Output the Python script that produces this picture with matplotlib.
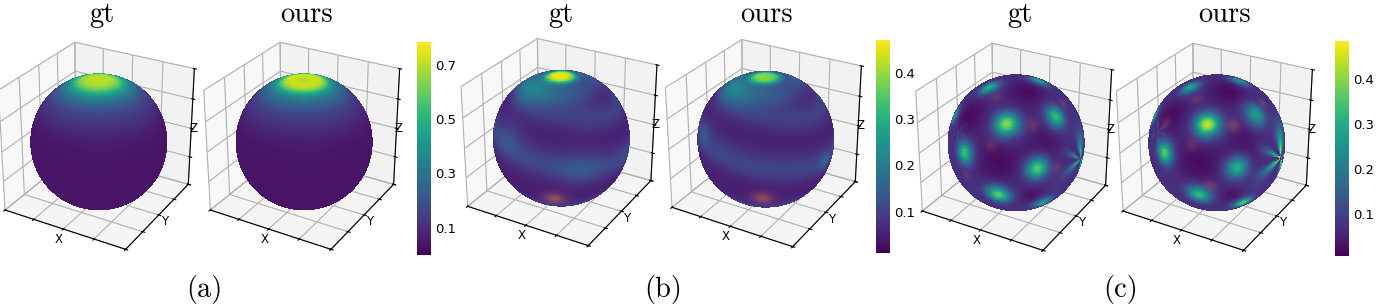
"""
Six spheres on 3D axes, ground truth against ours, with one colorbar per pair.
Spots are read off the picture as (p, q) on the unit disc, as seen by the viewer.
"""

import numpy as np
import matplotlib
matplotlib.use("Agg")
import matplotlib.pyplot as plt
from matplotlib.colors import Normalize
from matplotlib.cm import ScalarMappable

W, H = 1378, 307
ELEV, AZIM = 28, -60

titles = ["gt", "ours"]
captions = ["(a)", "(b)", "(c)"]
side_ticks = [-1.02, -0.51, 0, 0.51, 1.02]
z_lims = (-0.95, 1.01)
z_ticks = [-0.95, -0.46, 0.03, 0.52, 1.01]

# colour ranges
ranges = [(0.0, 0.783), (0.011, 0.47), (0.006, 0.485)]
bar_ticks = [[0.1, 0.3, 0.5, 0.7], [0.1, 0.2, 0.3, 0.4], [0.1, 0.2, 0.3, 0.4]]

# base level of each sphere
a_base = 0.042
b_base = 0.05
c_base = 0.07

# bands: (z, amplitude, width, tilt)
a_gt_bands = [(1.0, 0.29, 0.045, 0), (1.0, 0.28, 0.11, 0), (0.85, 0.11, 0.22, 0)]
a_ours_bands = [(0.985, 0.32, 0.035, 0), (1.0, 0.27, 0.11, 0), (0.85, 0.11, 0.22, 0)]
b_gt_bands = [(1.0, 0.34, 0.018, 0), (0.92, 0.09, 0.08, 0), (0.72, 0.05, 0.10, 0.16),
              (0.09, 0.06, 0.15, 0.16), (-0.75, 0.04, 0.12, 0)]
b_ours_bands = [(1.0, 0.27, 0.018, 0), (0.92, 0.09, 0.08, 0), (0.72, 0.05, 0.10, 0.16),
                (0.09, 0.055, 0.15, 0.16), (-0.75, 0.04, 0.12, 0)]

# spots: (p, q, amplitude, width)
b_gt_spots = [(-0.36, 0.70, 0.06, 0.22), (0.42, 0.68, -0.03, 0.18), (-0.72, 0.05, 0.035, 0.18), (0.25, -0.42, 0.03, 0.20)]
b_ours_spots = [(-0.40, 0.70, 0.06, 0.22), (0.40, 0.68, -0.03, 0.18), (-0.85, 0.10, 0.035, 0.12), (0.82, -0.33, 0.05, 0.10)]
c_gt_spots = [(-0.126, 0.243, 0.34, 0.115), (0.54, 0.354, 0.26, 0.11), (0.28, -0.335, 0.30, 0.11),
              (-0.71, -0.13, 0.27, 0.11), (-0.25, -0.71, 0.30, 0.115), (-0.37, 0.78, 0.24, 0.10),
              (0.33, 0.88, 0.20, 0.10), (-0.87, 0.40, 0.20, 0.09), (0.37, -0.85, 0.20, 0.10),
              (-0.24, -0.25, -0.05, 0.24), (-0.63, 0.38, -0.05, 0.2), (0.15, 0.70, -0.05, 0.2),
              (0.38, 0.0, -0.04, 0.2), (0.2, -0.72, -0.04, 0.12)]
c_ours_spots = [(-0.126, 0.235, 0.38, 0.115), (0.53, 0.38, 0.20, 0.12), (0.27, -0.325, 0.25, 0.11),
                (-0.72, -0.13, 0.30, 0.11), (-0.25, -0.71, 0.26, 0.115), (-0.37, 0.78, 0.22, 0.10),
                (0.33, 0.88, 0.19, 0.10), (-0.89, 0.40, 0.22, 0.09), (0.36, -0.85, 0.30, 0.095),
                (-0.24, -0.25, -0.05, 0.24), (-0.63, 0.38, -0.05, 0.2), (0.15, 0.70, -0.05, 0.2),
                (0.38, 0.0, -0.04, 0.2), (0.2, -0.72, -0.04, 0.12)]

# fans of spokes near the poles: (p, q, spokes, phase in degrees, amplitude, radius)
c_gt_fans = [(0.92, -0.24, 6, 35, 0.30, 0.22), (-0.82, 0.16, 6, 35, 0.05, 0.10)]
c_ours_fans = [(0.91, -0.22, 6, 35, 0.38, 0.26), (-0.82, 0.16, 6, 35, 0.07, 0.12)]

# things on the far side showing through: (p, q, strength, width)
b_gt_tint = [(-0.10, -0.85, 0.50, 0.11)]
b_ours_tint = [(-0.05, -0.83, 0.45, 0.11)]
c_gt_tint = [(-0.33, -0.03, 0.18, 0.06), (0.22, 0.23, 0.20, 0.06), (-0.27, 0.62, 0.18, 0.05),
             (0.66, 0.55, 0.18, 0.05), (-0.70, -0.45, 0.18, 0.05), (0.55, -0.35, 0.16, 0.06)]
c_ours_tint = [(0.22, 0.23, 0.30, 0.06), (-0.70, 0.28, 0.22, 0.06), (-0.32, -0.02, 0.18, 0.06),
               (0.65, 0.55, 0.22, 0.05), (-0.09, -0.58, 0.24, 0.06), (-0.27, 0.60, 0.18, 0.05)]

# disc centres in picture pixels
centres = [(98.7, 141.7), (304.0, 141.7), (561.3, 138.0), (765.7, 139.0), (1016.0, 142.7), (1216.7, 142.7)]
title_x = [101.7, 307.0, 560.7, 766.7, 1019.7, 1225.0]
caption_x = [204.0, 662.7, 1121.0]
bar_boxes = [(417.3, 42.3, 13.3, 212.4), (876.3, 40.0, 13.7, 213.3), (1335.3, 41.3, 13.4, 214.4)]

panels = [
    dict(base=a_base, bands=a_gt_bands),
    dict(base=a_base, bands=a_ours_bands),
    dict(base=b_base, bands=b_gt_bands, spots=b_gt_spots, tint=b_gt_tint),
    dict(base=b_base, bands=b_ours_bands, spots=b_ours_spots, tint=b_ours_tint),
    dict(base=c_base, spots=c_gt_spots, fans=c_gt_fans, tint=c_gt_tint),
    dict(base=c_base, spots=c_ours_spots, fans=c_ours_fans, tint=c_ours_tint),
]

AX_SIZE = 230
LIFT = 1.4
SHIFT = -3.0


def view_basis():
    el, az = np.radians(ELEV), np.radians(AZIM)
    d = np.array([np.cos(el) * np.cos(az), np.cos(el) * np.sin(az), np.sin(el)])
    r = np.array([-np.sin(az), np.cos(az), 0.0])
    u = np.cross(d, r)
    return r, u, d


def disc_point(p, q):
    w = np.sqrt(max(0.0, 1 - p * p - q * q))
    return np.array([p, q, w])


def sphere_field(panel):
    # front half of the sphere, mesh centred on the viewer
    r, u, d = view_basis()
    th, ph = np.meshgrid(np.linspace(0, np.pi / 2, 90), np.linspace(0, 2 * np.pi, 220), indexing="ij")
    p = np.sin(th) * np.cos(ph)
    q = np.sin(th) * np.sin(ph)
    w = np.cos(th)
    X = p * r[0] + q * u[0] + w * d[0]
    Y = p * r[1] + q * u[1] + w * d[1]
    Z = p * r[2] + q * u[2] + w * d[2]

    val = np.full(X.shape, float(panel["base"]))
    for z0, amp, wid, tilt in panel.get("bands", []):
        val += amp * np.exp(-((Z + tilt * p - z0) ** 2) / (2 * wid ** 2))
    for p0, q0, amp, wid in panel.get("spots", []):
        c = disc_point(p0, q0)
        ang = np.arccos(np.clip(p * c[0] + q * c[1] + w * c[2], -1, 1))
        val += amp * np.exp(-(ang ** 2) / (2 * wid ** 2))
    for p0, q0, m, phase, amp, rad in panel.get("fans", []):
        c = disc_point(p0, q0)
        ang = np.arccos(np.clip(p * c[0] + q * c[1] + w * c[2], -1, 1))
        spin = np.arctan2(q - q0, p - p0) - np.radians(phase)
        val += amp * np.cos(m * spin / 2) ** 4 * np.exp(-(ang ** 2) / (2 * rad ** 2))

    tint = np.zeros(X.shape)
    for p0, q0, strength, wid in panel.get("tint", []):
        c = disc_point(p0, q0)
        ang = np.arccos(np.clip(p * c[0] + q * c[1] + w * c[2], -1, 1))
        tint += strength * np.exp(-(ang ** 2) / (2 * wid ** 2))
    return X, Y, Z, val, np.clip(tint, 0, 1)


def px_rect(x, y, w, h):
    return [x / W, 1 - (y + h) / H, w / W, h / H]


fig = plt.figure(figsize=(W / 100, H / 100), dpi=100)

for i, panel in enumerate(panels):
    cx, cy = centres[i]
    ax = fig.add_axes(px_rect(cx + SHIFT - AX_SIZE / 2, cy + LIFT - AX_SIZE / 2, AX_SIZE, AX_SIZE), projection="3d")
    ax.view_init(elev=ELEV, azim=AZIM)
    ax.set_proj_type("persp", focal_length=0.75)
    ax.set_box_aspect((2.04, 2.04, z_lims[1] - z_lims[0]))
    ax.patch.set_alpha(0)

    X, Y, Z, val, tint = sphere_field(panel)
    norm = Normalize(*ranges[i // 2])
    col = plt.cm.viridis(norm(val))
    col[..., :3] = col[..., :3] * (1 - tint[..., None]) + np.array([0.85, 0.48, 0.30]) * tint[..., None]
    ax.plot_surface(X, Y, Z, facecolors=col, rstride=1, cstride=1, shade=False, linewidth=0, antialiased=False)

    ax.set_xlim(-1.02, 1.02)
    ax.set_ylim(-1.02, 1.02)
    ax.set_zlim(*z_lims)
    ax.set_xticks(side_ticks)
    ax.set_yticks(side_ticks)
    ax.set_zticks(z_ticks)
    ax.set_xticklabels([])
    ax.set_yticklabels([])
    ax.set_zticklabels([])
    ax.set_xlabel("X", fontsize=8.5, labelpad=-16)
    ax.set_ylabel("Y", fontsize=8.5, labelpad=-17)
    ax.set_zlabel("Z", fontsize=8.5, labelpad=-20)

    fig.text(title_x[i] / W, 1 - 15 / H, titles[i % 2], family="cmr10", fontsize=20.5, ha="center", va="center")

for k in range(3):
    cax = fig.add_axes(px_rect(*bar_boxes[k]))
    sm = ScalarMappable(norm=Normalize(*ranges[k]), cmap="viridis")
    cb = fig.colorbar(sm, cax=cax)
    cb.set_ticks(bar_ticks[k])
    cb.ax.tick_params(labelsize=9.5, length=0, pad=3.2)
    cb.outline.set_visible(False)
    fig.text(caption_x[k] / W, 1 - 289 / H, captions[k], family="cmr10", fontsize=20.5, ha="center", va="center")

fig.savefig("out.png", dpi=100)
